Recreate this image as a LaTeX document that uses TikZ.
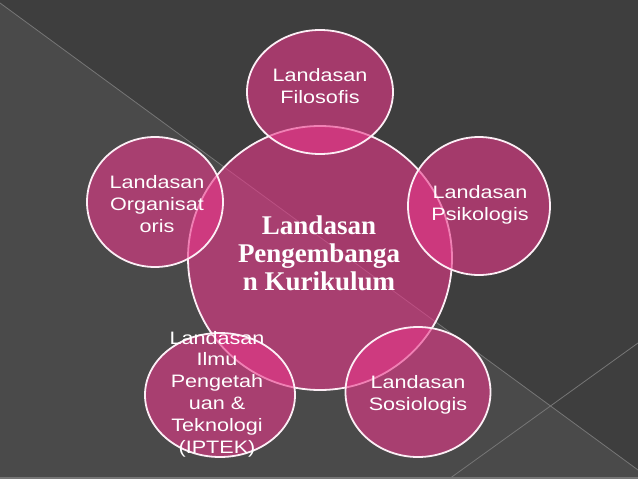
\documentclass[tikz,border=0pt]{standalone}
\usepackage{fontspec}
\setmainfont{Liberation Serif}
\newfontfamily\armfont{Liberation Sans}[FakeStretch=1.2]
\usetikzlibrary{shapes.geometric}
\definecolor{bgdark}{RGB}{62,62,62}
\definecolor{bglight}{RGB}{74,74,74}
\definecolor{bgline}{RGB}{118,118,118}
\definecolor{petal}{RGB}{232,56,138}
\definecolor{rim}{RGB}{252,238,245}

\begin{document}
\begin{tikzpicture}[x=1pt,y=-1pt,
  bubble/.style={ellipse,draw=rim,line width=1.8pt,fill=petal,fill opacity=0.6,draw opacity=1,inner sep=0pt},
  armtext/.style={text=white,align=center,anchor=base,inner sep=0pt,font=\armfont\fontsize{18}{21.8}\selectfont},
  coretext/.style={text=white,align=center,anchor=base,inner sep=0pt,font=\bfseries\fontsize{27}{28}\selectfont}]
\useasboundingbox (0,0) rectangle (638,479);
% background
\fill[bgdark] (0,0) rectangle (638,479);
\fill[bglight] (0,3) -- (638,470) -- (638,479) -- (0,479) -- cycle;
\draw[bgline,line width=0.8pt] (0,3) -- (638,470);
\draw[bgline,line width=0.8pt] (449,479) -- (638,343);
\fill[bgline] (0,477) rectangle (638,479);
% centre, then the five around it
\node[bubble,minimum width=264pt,minimum height=264pt] (core) at (320,258) {};
\node[bubble,minimum width=146pt,minimum height=124pt] (filo) at (320,92) {};
\node[bubble,minimum width=142pt,minimum height=138pt] (psiko) at (479,206) {};
\node[bubble,minimum width=145pt,minimum height=130pt] (sosio) at (418,392) {};
\node[bubble,minimum width=150pt,minimum height=124pt] (iptek) at (220,395) {};
\node[bubble,minimum width=136pt,minimum height=130pt] (organ) at (155,202) {};
% labels (base = last line)
\node[coretext] (core-t) at (319,290) {Landasan\\Pengembanga\\n Kurikulum};
\node[armtext] (filo-t) at (320,103) {Landasan\\Filosofis};
\node[armtext] (psiko-t) at (480,220) {Landasan\\Psikologis};
\node[armtext] (sosio-t) at (418,410) {Landasan\\Sosiologis};
\node[armtext] (iptek-t) at (217,453) {Landasan\\Ilmu\\Pengetah\\uan \&\\Teknologi\\(IPTEK)};
\node[armtext] (organ-t) at (157,232) {Landasan\\Organisat\\oris};
\end{tikzpicture}
\end{document}
